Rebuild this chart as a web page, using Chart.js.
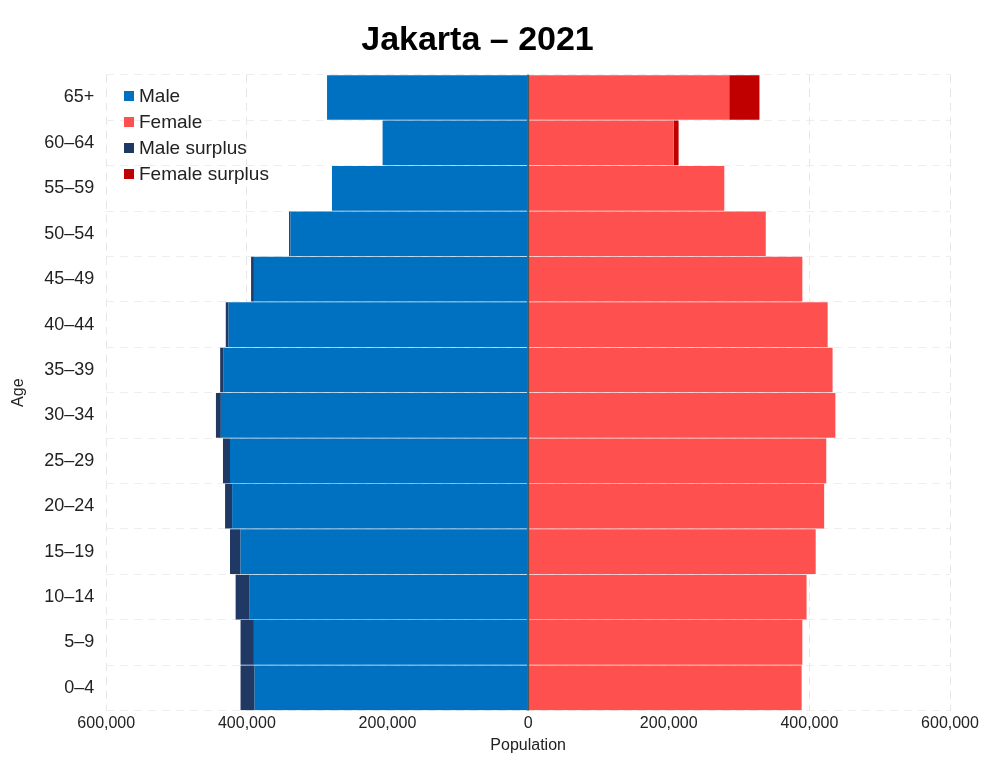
<!DOCTYPE html>
<html><head><meta charset="utf-8">
<script src="https://cdn.jsdelivr.net/npm/chart.js@4/dist/chart.umd.min.js"></script>
<style>
html,body{margin:0;padding:0;background:#fff;font-family:"Liberation Sans",Arial,sans-serif;}
#wrap{position:relative;width:1000px;height:764px;}
#legend{position:absolute;left:124px;top:83px;font-size:19px;color:#222;line-height:26px;}
#legend span.sw{display:inline-block;width:10px;height:10px;margin-right:5px;vertical-align:1px;}
</style></head><body>
<div id="wrap"><canvas id="c" width="1000" height="764"></canvas>
<div id="legend">
<div><span class="sw" style="background:#0070c0"></span>Male</div>
<div><span class="sw" style="background:#ff5050"></span>Female</div>
<div><span class="sw" style="background:#203864"></span>Male surplus</div>
<div><span class="sw" style="background:#c00000"></span>Female surplus</div>
</div></div>
<script>
const categories = ['65+','60–64','55–59','50–54','45–49','40–44','35–39','30–34','25–29','20–24','15–19','10–14','5–9','0–4'];
const male   = [286000,207000,279000,340000,394000,430000,438000,444000,434000,431000,424000,416000,409000,409000];
const female = [329000,214000,279000,338000,390000,426000,433000,437000,424000,421000,409000,396000,390000,389000];
const xTicks = [-600000,-400000,-200000,0,200000,400000,600000];

const maleBase = male.map((m,i)=>-Math.min(m,female[i]));
const maleSurplus = male.map((m,i)=>-Math.max(m-female[i],0));
const femaleBase = female.map((f,i)=>Math.min(f,male[i]));
const femaleSurplus = female.map((f,i)=>Math.max(f-male[i],0));

const zeroLine = {id:'zero',afterDatasetsDraw(ch){const x=ch.scales.x.getPixelForValue(0);const a=ch.chartArea;const c=ch.ctx;c.save();c.strokeStyle='#555';c.lineWidth=2;c.beginPath();c.moveTo(x,a.top);c.lineTo(x,a.bottom);c.stroke();c.restore();}};

new Chart(document.getElementById('c'),{
type:'bar',
data:{labels:categories,datasets:[
{label:'Male',data:maleBase,backgroundColor:'#0070c0',stack:'s'},
{label:'Male surplus',data:maleSurplus,backgroundColor:'#203864',stack:'s'},
{label:'Female',data:femaleBase,backgroundColor:'#ff5050',stack:'s'},
{label:'Female surplus',data:femaleSurplus,backgroundColor:'#c00000',stack:'s'}
]},
options:{indexAxis:'y',responsive:false,animation:false,
layout:{padding:{left:5,right:50,top:10,bottom:5}},
datasets:{bar:{barPercentage:0.985,categoryPercentage:1}},
plugins:{legend:{display:false},tooltip:{enabled:false},
title:{display:true,text:'Jakarta – 2021',font:{size:34,weight:'bold',family:'Liberation Sans'},color:'#000',padding:{top:10,bottom:14}}},
scales:{
x:{stacked:true,min:-600000,max:600000,
afterBuildTicks(s){s.ticks=xTicks.map(v=>({value:v}));},
ticks:{callback:v=>Math.abs(v).toLocaleString('en-US'),color:'#222',font:{size:16,family:'Liberation Sans'},maxRotation:0},
grid:{color:'#e6e6e6',lineWidth:1,drawTicks:false},border:{display:false,dash:[8,6]},
title:{display:true,text:'Population',font:{size:16,family:'Liberation Sans'},color:'#222',padding:{top:0}}},
y:{stacked:true,ticks:{color:'#222',font:{size:18,family:'Liberation Sans'},padding:12},
grid:{color:'#eeeeee',drawTicks:false,offset:true},border:{display:false,dash:[8,6]},
title:{display:true,text:'Age',font:{size:16,family:'Liberation Sans'},color:'#222'}}
}},
plugins:[zeroLine]});
</script></body></html>
